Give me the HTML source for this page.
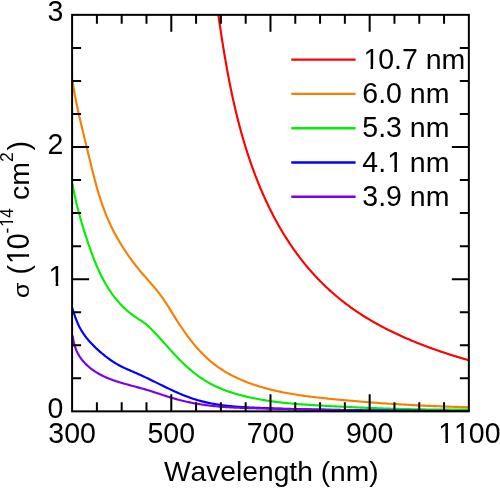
<!DOCTYPE html>
<html><head><meta charset="utf-8"><style>html,body{margin:0;padding:0;background:#fff;overflow:hidden}svg{display:block}</style></head>
<body><svg width="500" height="488" viewBox="0 0 500 488"><rect width="500" height="488" fill="#fff"/><defs><clipPath id="c"><rect x="72.1" y="14.85" width="396.75" height="396.5"/></clipPath></defs><g clip-path="url(#c)" fill="none" stroke-width="2.15" stroke-linejoin="round" stroke-linecap="round"><polyline stroke="#ff0000" points="217.67,10.02 217.84,11.18 218.00,12.34 218.17,13.49 218.33,14.65 218.50,15.81 218.67,16.97 218.83,18.13 219.00,19.29 219.17,20.44 219.34,21.60 219.51,22.76 219.68,23.92 219.85,25.08 220.02,26.23 220.19,27.39 220.37,28.55 220.54,29.71 220.71,30.86 220.89,32.02 221.06,33.18 221.24,34.34 221.42,35.49 221.60,36.65 221.78,37.81 221.96,38.96 222.14,40.12 222.32,41.28 222.50,42.43 222.68,43.59 222.87,44.74 223.05,45.90 223.24,47.06 223.43,48.21 223.62,49.37 223.81,50.52 224.00,51.68 224.19,52.83 224.38,53.98 224.57,55.14 224.77,56.29 224.97,57.45 225.16,58.60 225.36,59.75 225.56,60.91 225.76,62.06 225.96,63.21 226.17,64.36 226.37,65.51 226.58,66.67 226.78,67.82 226.99,68.97 227.20,70.12 227.41,71.27 227.63,72.42 227.84,73.57 228.06,74.72 228.27,75.87 228.49,77.02 228.71,78.16 228.93,79.31 229.16,80.46 229.38,81.61 229.61,82.75 229.83,83.90 230.06,85.05 230.29,86.19 230.53,87.34 230.76,88.48 231.00,89.63 231.23,90.77 231.47,91.92 231.71,93.06 231.96,94.20 232.20,95.35 232.45,96.49 232.69,97.63 232.94,98.77 233.20,99.91 233.45,101.05 233.70,102.19 233.96,103.33 234.22,104.47 234.48,105.61 234.74,106.75 235.01,107.88 235.28,109.02 235.54,110.16 235.81,111.29 236.09,112.43 236.36,113.56 236.64,114.70 236.92,115.83 237.20,116.96 237.48,118.10 237.77,119.23 238.05,120.36 238.34,121.49 238.64,122.62 238.93,123.75 239.23,124.88 239.53,126.01 239.83,127.14 240.13,128.27 240.43,129.39 240.74,130.52 241.05,131.65 241.36,132.77 241.68,133.90 242.00,135.02 242.32,136.14 242.64,137.27 242.96,138.39 243.29,139.51 243.62,140.63 243.95,141.75 244.29,142.87 244.62,143.99 244.96,145.11 245.30,146.22 245.65,147.34 246.00,148.46 246.35,149.57 246.70,150.69 247.05,151.80 247.41,152.91 247.77,154.02 248.14,155.14 248.50,156.25 248.87,157.36 249.24,158.47 249.62,159.57 249.99,160.68 250.37,161.79 250.76,162.89 251.14,164.00 251.53,165.10 251.92,166.21 252.32,167.31 252.71,168.41 253.12,169.51 253.52,170.62 253.92,171.71 254.33,172.81 254.75,173.91 255.16,175.01 255.58,176.10 256.00,177.20 256.43,178.29 256.85,179.38 257.28,180.47 257.72,181.56 258.15,182.65 258.59,183.74 259.04,184.83 259.48,185.91 259.93,186.99 260.39,188.08 260.84,189.16 261.30,190.24 261.76,191.32 262.23,192.39 262.70,193.47 263.17,194.54 263.65,195.61 264.12,196.68 264.61,197.75 265.09,198.82 265.58,199.89 266.07,200.95 266.57,202.01 267.07,203.07 267.57,204.13 268.07,205.19 268.58,206.25 269.10,207.30 269.61,208.35 270.13,209.40 270.65,210.45 271.18,211.50 271.71,212.54 272.24,213.59 272.78,214.63 273.32,215.66 273.86,216.70 274.41,217.74 274.96,218.77 275.52,219.80 276.08,220.83 276.64,221.85 277.20,222.88 277.77,223.90 278.35,224.92 278.92,225.93 279.50,226.95 280.09,227.96 280.68,228.97 281.27,229.98 281.86,230.98 282.46,231.98 283.06,232.98 283.67,233.98 284.28,234.98 284.90,235.97 285.51,236.96 286.14,237.95 286.76,238.93 287.39,239.91 288.03,240.89 288.66,241.87 289.30,242.84 289.95,243.82 290.60,244.78 291.25,245.75 291.91,246.71 292.57,247.67 293.24,248.63 293.91,249.58 294.58,250.54 295.26,251.48 295.94,252.43 296.63,253.37 297.32,254.31 298.01,255.25 298.71,256.18 299.41,257.11 300.12,258.04 300.83,258.96 301.54,259.88 302.26,260.80 302.98,261.71 303.71,262.62 304.44,263.53 305.18,264.43 305.92,265.33 306.66,266.23 307.41,267.12 308.16,268.01 308.92,268.90 309.68,269.78 310.45,270.66 311.22,271.54 311.99,272.41 312.77,273.28 313.55,274.14 314.34,275.01 315.13,275.86 315.93,276.72 316.73,277.57 317.53,278.41 318.34,279.26 319.16,280.10 319.97,280.93 320.79,281.76 321.62,282.59 322.45,283.41 323.28,284.23 324.12,285.05 324.96,285.86 325.80,286.67 326.65,287.47 327.50,288.27 328.36,289.06 329.22,289.85 330.09,290.64 330.95,291.42 331.83,292.20 332.70,292.98 333.58,293.75 334.47,294.51 335.35,295.27 336.24,296.03 337.14,296.78 338.04,297.53 338.94,298.27 339.84,299.01 340.75,299.75 341.66,300.48 342.58,301.20 343.50,301.92 344.42,302.64 345.35,303.35 346.28,304.06 347.21,304.76 348.15,305.45 349.09,306.15 350.03,306.84 350.98,307.52 351.93,308.20 352.88,308.87 353.84,309.54 354.80,310.20 355.76,310.86 356.73,311.52 357.70,312.17 358.67,312.82 359.64,313.46 360.62,314.10 361.60,314.73 362.59,315.36 363.57,315.98 364.56,316.60 365.55,317.22 366.55,317.83 367.55,318.44 368.55,319.04 369.55,319.64 370.55,320.23 371.56,320.82 372.57,321.41 373.58,321.99 374.60,322.57 375.62,323.15 376.64,323.72 377.66,324.28 378.68,324.84 379.71,325.40 380.74,325.96 381.77,326.51 382.80,327.06 383.84,327.60 384.88,328.14 385.92,328.67 386.96,329.21 388.00,329.74 389.05,330.26 390.09,330.78 391.14,331.30 392.19,331.81 393.24,332.32 394.30,332.83 395.35,333.33 396.41,333.83 397.47,334.33 398.53,334.82 399.59,335.31 400.66,335.80 401.72,336.28 402.79,336.76 403.86,337.24 404.93,337.71 406.00,338.18 407.08,338.65 408.15,339.11 409.23,339.57 410.30,340.03 411.38,340.48 412.46,340.93 413.54,341.38 414.63,341.82 415.71,342.26 416.80,342.70 417.88,343.14 418.97,343.57 420.06,344.00 421.15,344.42 422.24,344.85 423.33,345.27 424.43,345.69 425.52,346.10 426.62,346.51 427.71,346.92 428.81,347.32 429.91,347.73 431.01,348.13 432.11,348.53 433.21,348.92 434.31,349.31 435.42,349.70 436.52,350.09 437.63,350.47 438.73,350.85 439.84,351.23 440.94,351.61 442.05,351.98 443.16,352.35 444.27,352.72 445.38,353.09 446.49,353.45 447.60,353.81 448.71,354.17 449.82,354.52 450.93,354.88 452.05,355.23 453.16,355.58 454.27,355.92 455.39,356.27 456.50,356.61 457.62,356.95 458.73,357.29 459.85,357.62 460.96,357.95 462.08,358.28 463.20,358.61 464.31,358.94 465.43,359.26 466.55,359.59 467.66,359.91 468.78,360.22 469.90,360.54"/><polyline stroke="#f88000" points="72.40,80.36 72.62,81.82 72.85,83.29 73.08,84.74 73.32,86.20 73.56,87.66 73.81,89.11 74.07,90.56 74.33,92.01 74.59,93.46 74.86,94.91 75.13,96.36 75.41,97.80 75.69,99.24 75.98,100.68 76.27,102.12 76.56,103.56 76.86,105.00 77.16,106.44 77.47,107.87 77.78,109.31 78.09,110.74 78.40,112.18 78.72,113.61 79.04,115.04 79.37,116.47 79.69,117.90 80.02,119.33 80.35,120.76 80.68,122.19 81.02,123.62 81.36,125.04 81.69,126.47 82.03,127.90 82.37,129.33 82.72,130.75 83.06,132.18 83.41,133.61 83.75,135.03 84.10,136.46 84.45,137.89 84.79,139.32 85.14,140.75 85.49,142.17 85.84,143.60 86.19,145.03 86.53,146.46 86.88,147.89 87.23,149.32 87.58,150.76 87.92,152.19 88.27,153.62 88.61,155.05 88.96,156.49 89.30,157.92 89.65,159.36 89.99,160.79 90.34,162.23 90.69,163.66 91.04,165.10 91.39,166.53 91.74,167.97 92.10,169.40 92.45,170.83 92.81,172.27 93.18,173.70 93.54,175.13 93.91,176.56 94.28,177.99 94.66,179.41 95.04,180.84 95.42,182.26 95.81,183.69 96.20,185.11 96.60,186.53 97.00,187.94 97.41,189.36 97.82,190.77 98.24,192.18 98.67,193.59 99.10,195.00 99.54,196.40 99.98,197.81 100.43,199.21 100.89,200.60 101.35,202.00 101.83,203.39 102.31,204.77 102.80,206.16 103.29,207.54 103.80,208.91 104.31,210.29 104.84,211.66 105.37,213.02 105.91,214.39 106.46,215.75 107.02,217.10 107.59,218.45 108.17,219.80 108.77,221.14 109.37,222.48 109.98,223.81 110.60,225.14 111.24,226.46 111.88,227.78 112.53,229.10 113.20,230.41 113.87,231.71 114.55,233.01 115.24,234.31 115.94,235.60 116.65,236.89 117.37,238.17 118.10,239.45 118.84,240.72 119.59,241.99 120.34,243.25 121.11,244.50 121.88,245.76 122.67,247.00 123.46,248.25 124.26,249.48 125.07,250.71 125.88,251.94 126.71,253.16 127.54,254.38 128.38,255.59 129.23,256.79 130.09,257.99 130.95,259.18 131.83,260.37 132.71,261.55 133.60,262.73 134.49,263.90 135.39,265.07 136.30,266.23 137.22,267.38 138.15,268.53 139.08,269.67 140.02,270.81 140.96,271.94 141.92,273.07 142.87,274.19 143.83,275.30 144.80,276.42 145.77,277.53 146.73,278.64 147.70,279.74 148.67,280.85 149.64,281.96 150.60,283.07 151.56,284.18 152.52,285.29 153.47,286.41 154.42,287.53 155.36,288.65 156.29,289.78 157.21,290.91 158.12,292.05 159.02,293.20 159.91,294.36 160.78,295.52 161.64,296.70 162.49,297.88 163.33,299.07 164.16,300.27 164.97,301.48 165.78,302.69 166.58,303.91 167.37,305.13 168.16,306.36 168.94,307.60 169.72,308.84 170.49,310.08 171.26,311.32 172.03,312.57 172.80,313.82 173.58,315.07 174.35,316.32 175.13,317.57 175.91,318.82 176.70,320.07 177.49,321.31 178.29,322.56 179.10,323.80 179.91,325.04 180.73,326.28 181.55,327.51 182.38,328.74 183.22,329.97 184.07,331.19 184.92,332.40 185.79,333.61 186.65,334.82 187.53,336.02 188.42,337.21 189.31,338.40 190.21,339.57 191.13,340.75 192.05,341.91 192.97,343.06 193.91,344.21 194.86,345.35 195.82,346.47 196.78,347.59 197.76,348.70 198.75,349.80 199.74,350.88 200.75,351.96 201.77,353.02 202.79,354.07 203.83,355.11 204.88,356.14 205.94,357.15 207.01,358.15 208.10,359.14 209.19,360.11 210.30,361.07 211.42,362.01 212.55,362.94 213.69,363.85 214.85,364.74 216.02,365.62 217.20,366.48 218.39,367.33 219.59,368.16 220.81,368.97 222.04,369.77 223.28,370.55 224.52,371.32 225.78,372.07 227.05,372.81 228.33,373.53 229.62,374.24 230.91,374.93 232.22,375.61 233.53,376.27 234.85,376.92 236.18,377.56 237.51,378.18 238.85,378.79 240.20,379.39 241.56,379.98 242.91,380.55 244.28,381.11 245.65,381.65 247.02,382.19 248.40,382.71 249.78,383.22 251.17,383.72 252.56,384.21 253.95,384.69 255.35,385.16 256.75,385.61 258.15,386.06 259.55,386.49 260.96,386.92 262.37,387.33 263.78,387.74 265.19,388.13 266.61,388.52 268.03,388.90 269.45,389.26 270.88,389.62 272.30,389.97 273.73,390.31 275.16,390.65 276.59,390.97 278.03,391.29 279.46,391.60 280.90,391.90 282.34,392.19 283.79,392.48 285.23,392.76 286.67,393.03 288.12,393.30 289.57,393.55 291.02,393.81 292.47,394.05 293.93,394.29 295.38,394.53 296.83,394.76 298.29,394.98 299.75,395.20 301.21,395.41 302.67,395.62 304.13,395.82 305.59,396.02 307.05,396.21 308.52,396.40 309.98,396.59 311.44,396.77 312.91,396.95 314.37,397.12 315.84,397.30 317.31,397.46 318.77,397.63 320.24,397.79 321.71,397.95 323.18,398.11 324.64,398.27 326.11,398.42 327.58,398.57 329.05,398.72 330.52,398.87 331.98,399.01 333.45,399.16 334.92,399.30 336.38,399.45 337.85,399.59 339.32,399.73 340.78,399.87 342.25,400.00 343.72,400.14 345.18,400.27 346.65,400.41 348.12,400.54 349.58,400.67 351.05,400.80 352.51,400.93 353.98,401.05 355.44,401.18 356.91,401.30 358.38,401.42 359.84,401.55 361.31,401.67 362.77,401.78 364.24,401.90 365.70,402.02 367.17,402.13 368.63,402.25 370.10,402.36 371.56,402.47 373.03,402.58 374.49,402.69 375.96,402.80 377.43,402.90 378.89,403.01 380.36,403.11 381.82,403.21 383.29,403.31 384.75,403.41 386.22,403.51 387.68,403.61 389.15,403.71 390.62,403.80 392.08,403.90 393.55,403.99 395.01,404.08 396.48,404.17 397.95,404.26 399.41,404.35 400.88,404.43 402.34,404.52 403.81,404.61 405.28,404.69 406.75,404.77 408.21,404.85 409.68,404.93 411.15,405.01 412.61,405.09 414.08,405.17 415.55,405.24 417.02,405.32 418.49,405.39 419.95,405.46 421.42,405.53 422.89,405.60 424.36,405.67 425.83,405.74 427.30,405.81 428.77,405.87 430.24,405.94 431.71,406.00 433.18,406.06 434.65,406.12 436.12,406.18 437.59,406.24 439.06,406.30 440.54,406.36 442.01,406.42 443.48,406.47 444.95,406.53 446.42,406.58 447.90,406.63 449.37,406.68 450.84,406.73 452.32,406.78 453.79,406.83 455.27,406.88 456.74,406.92 458.22,406.97 459.69,407.01 461.17,407.06 462.65,407.10 464.12,407.14 465.60,407.18 467.08,407.22 468.56,407.26 470.03,407.30"/><polyline stroke="#00f000" points="72.49,184.23 72.72,185.50 72.95,186.78 73.19,188.05 73.43,189.32 73.68,190.58 73.93,191.85 74.19,193.11 74.45,194.37 74.72,195.63 74.99,196.89 75.27,198.14 75.55,199.40 75.84,200.65 76.13,201.90 76.42,203.14 76.72,204.39 77.03,205.64 77.33,206.88 77.65,208.12 77.96,209.36 78.28,210.60 78.61,211.84 78.94,213.08 79.27,214.31 79.61,215.55 79.95,216.78 80.29,218.01 80.64,219.24 80.99,220.48 81.35,221.71 81.71,222.93 82.08,224.16 82.44,225.39 82.81,226.62 83.19,227.84 83.57,229.07 83.95,230.29 84.33,231.52 84.72,232.74 85.11,233.97 85.51,235.19 85.91,236.41 86.31,237.64 86.72,238.86 87.12,240.08 87.54,241.31 87.95,242.53 88.37,243.75 88.79,244.97 89.21,246.20 89.64,247.42 90.07,248.64 90.50,249.86 90.94,251.09 91.38,252.31 91.83,253.53 92.28,254.74 92.74,255.96 93.20,257.17 93.66,258.38 94.14,259.59 94.61,260.80 95.10,262.01 95.59,263.21 96.08,264.41 96.59,265.60 97.10,266.79 97.61,267.98 98.14,269.16 98.67,270.34 99.21,271.52 99.76,272.69 100.31,273.86 100.88,275.02 101.45,276.17 102.03,277.33 102.62,278.47 103.22,279.61 103.83,280.74 104.45,281.87 105.08,282.99 105.72,284.10 106.37,285.21 107.03,286.31 107.70,287.40 108.38,288.49 109.07,289.56 109.78,290.63 110.49,291.69 111.22,292.75 111.96,293.79 112.72,294.83 113.48,295.85 114.26,296.87 115.05,297.88 115.86,298.88 116.67,299.86 117.50,300.84 118.35,301.81 119.20,302.77 120.07,303.71 120.95,304.65 121.84,305.57 122.75,306.48 123.67,307.38 124.59,308.27 125.54,309.15 126.49,310.01 127.46,310.86 128.43,311.70 129.42,312.52 130.42,313.33 131.44,314.13 132.46,314.91 133.50,315.68 134.55,316.43 135.61,317.17 136.68,317.89 137.76,318.60 138.86,319.29 139.95,319.98 141.05,320.67 142.13,321.37 143.20,322.09 144.25,322.84 145.27,323.62 146.26,324.43 147.23,325.27 148.18,326.13 149.11,327.01 150.04,327.91 150.95,328.81 151.86,329.73 152.76,330.64 153.65,331.57 154.54,332.49 155.43,333.43 156.31,334.36 157.19,335.30 158.06,336.25 158.94,337.20 159.80,338.15 160.67,339.10 161.53,340.06 162.40,341.01 163.26,341.97 164.12,342.93 164.98,343.89 165.84,344.85 166.70,345.81 167.56,346.77 168.42,347.73 169.28,348.69 170.15,349.65 171.01,350.61 171.88,351.56 172.75,352.51 173.63,353.46 174.50,354.41 175.38,355.35 176.27,356.29 177.16,357.22 178.06,358.15 178.96,359.07 179.86,359.99 180.77,360.91 181.69,361.81 182.62,362.71 183.55,363.61 184.49,364.50 185.43,365.38 186.38,366.25 187.34,367.12 188.30,367.98 189.27,368.83 190.25,369.67 191.23,370.50 192.22,371.32 193.22,372.13 194.23,372.94 195.24,373.73 196.26,374.51 197.29,375.28 198.33,376.05 199.37,376.80 200.42,377.53 201.48,378.26 202.54,378.97 203.62,379.68 204.70,380.36 205.79,381.04 206.88,381.70 207.99,382.35 209.10,382.99 210.22,383.61 211.35,384.21 212.49,384.80 213.64,385.38 214.79,385.94 215.95,386.49 217.12,387.03 218.30,387.56 219.48,388.07 220.66,388.57 221.86,389.05 223.05,389.53 224.26,389.99 225.47,390.44 226.68,390.88 227.90,391.31 229.12,391.73 230.35,392.14 231.57,392.54 232.81,392.93 234.04,393.31 235.28,393.68 236.52,394.05 237.76,394.40 239.01,394.75 240.26,395.08 241.50,395.41 242.75,395.74 244.00,396.05 245.25,396.36 246.51,396.66 247.76,396.95 249.02,397.24 250.27,397.52 251.53,397.79 252.79,398.05 254.05,398.31 255.31,398.57 256.57,398.81 257.84,399.05 259.10,399.29 260.37,399.51 261.63,399.74 262.90,399.95 264.17,400.16 265.44,400.37 266.71,400.57 267.98,400.76 269.25,400.95 270.52,401.14 271.80,401.32 273.07,401.49 274.34,401.66 275.62,401.82 276.90,401.98 278.17,402.14 279.45,402.29 280.73,402.44 282.01,402.58 283.29,402.72 284.57,402.86 285.85,402.99 287.13,403.12 288.41,403.24 289.70,403.36 290.98,403.48 292.26,403.60 293.55,403.71 294.83,403.82 296.12,403.92 297.40,404.03 298.69,404.13 299.97,404.23 301.26,404.32 302.54,404.42 303.83,404.51 305.12,404.60 306.40,404.69 307.69,404.77 308.98,404.86 310.27,404.94 311.55,405.02 312.84,405.10 314.13,405.18 315.42,405.26 316.71,405.33 317.99,405.41 319.28,405.49 320.57,405.56 321.86,405.63 323.15,405.71 324.43,405.78 325.72,405.85 327.01,405.93 328.30,406.00 329.59,406.07 330.87,406.14 332.16,406.21 333.45,406.28 334.74,406.34 336.02,406.41 337.31,406.48 338.60,406.54 339.89,406.61 341.18,406.68 342.46,406.74 343.75,406.80 345.04,406.87 346.33,406.93 347.61,406.99 348.90,407.05 350.19,407.11 351.48,407.17 352.76,407.23 354.05,407.29 355.34,407.35 356.63,407.41 357.91,407.46 359.20,407.52 360.49,407.58 361.78,407.63 363.06,407.69 364.35,407.74 365.64,407.79 366.93,407.84 368.21,407.90 369.50,407.95 370.79,408.00 372.08,408.05 373.36,408.09 374.65,408.14 375.94,408.19 377.23,408.24 378.51,408.28 379.80,408.33 381.09,408.37 382.38,408.41 383.66,408.46 384.95,408.50 386.24,408.54 387.53,408.58 388.81,408.62 390.10,408.66 391.39,408.70 392.68,408.74 393.96,408.78 395.25,408.81 396.54,408.85 397.83,408.88 399.12,408.92 400.40,408.95 401.69,408.98 402.98,409.01 404.27,409.04 405.56,409.08 406.84,409.10 408.13,409.13 409.42,409.16 410.71,409.19 412.00,409.21 413.28,409.24 414.57,409.26 415.86,409.29 417.15,409.31 418.44,409.33 419.72,409.36 421.01,409.38 422.30,409.40 423.59,409.41 424.88,409.43 426.17,409.45 427.45,409.47 428.74,409.48 430.03,409.50 431.32,409.51 432.61,409.52 433.90,409.54 435.19,409.55 436.48,409.56 437.76,409.57 439.05,409.58 440.34,409.59 441.63,409.59 442.92,409.60 444.21,409.60 445.50,409.61 446.79,409.61 448.08,409.62 449.37,409.62 450.66,409.62 451.95,409.62 453.24,409.62 454.52,409.62 455.81,409.61 457.10,409.61 458.39,409.61 459.68,409.60 460.97,409.59 462.26,409.59 463.55,409.58 464.84,409.57 466.13,409.56 467.42,409.55 468.71,409.54 470.01,409.53"/><polyline stroke="#0000ff" points="72.35,308.28 72.68,309.31 73.01,310.35 73.34,311.38 73.68,312.42 74.03,313.46 74.38,314.49 74.73,315.53 75.10,316.57 75.47,317.60 75.85,318.63 76.24,319.66 76.64,320.68 77.05,321.69 77.47,322.70 77.91,323.70 78.36,324.70 78.82,325.68 79.30,326.66 79.79,327.62 80.30,328.58 80.83,329.52 81.38,330.45 81.94,331.37 82.51,332.28 83.10,333.18 83.71,334.07 84.33,334.95 84.96,335.82 85.61,336.68 86.26,337.53 86.94,338.38 87.62,339.21 88.32,340.04 89.02,340.85 89.74,341.67 90.47,342.47 91.21,343.26 91.95,344.05 92.71,344.83 93.47,345.61 94.25,346.38 95.03,347.14 95.82,347.90 96.61,348.65 97.42,349.39 98.22,350.13 99.04,350.87 99.86,351.60 100.69,352.32 101.52,353.03 102.36,353.74 103.21,354.44 104.06,355.14 104.92,355.82 105.79,356.50 106.66,357.17 107.53,357.83 108.42,358.48 109.31,359.12 110.20,359.75 111.10,360.38 112.01,360.99 112.92,361.59 113.84,362.18 114.76,362.76 115.69,363.33 116.62,363.88 117.56,364.43 118.51,364.96 119.46,365.48 120.41,365.99 121.37,366.48 122.34,366.97 123.31,367.44 124.28,367.90 125.26,368.36 126.24,368.80 127.23,369.24 128.21,369.68 129.20,370.11 130.19,370.54 131.18,370.96 132.18,371.38 133.17,371.81 134.17,372.23 135.16,372.66 136.15,373.09 137.15,373.52 138.14,373.96 139.13,374.40 140.12,374.84 141.11,375.30 142.10,375.75 143.09,376.21 144.07,376.67 145.06,377.13 146.05,377.60 147.03,378.07 148.02,378.55 149.00,379.02 149.98,379.50 150.97,379.98 151.95,380.46 152.93,380.94 153.92,381.42 154.90,381.91 155.88,382.39 156.86,382.88 157.85,383.37 158.83,383.85 159.81,384.34 160.80,384.82 161.78,385.31 162.77,385.79 163.75,386.27 164.74,386.75 165.72,387.23 166.71,387.71 167.70,388.18 168.69,388.65 169.68,389.12 170.67,389.59 171.66,390.06 172.65,390.52 173.64,390.97 174.64,391.43 175.63,391.88 176.63,392.32 177.63,392.76 178.63,393.20 179.63,393.63 180.63,394.05 181.64,394.47 182.64,394.89 183.65,395.30 184.66,395.70 185.67,396.09 186.68,396.48 187.70,396.87 188.71,397.24 189.73,397.61 190.75,397.97 191.78,398.32 192.80,398.67 193.83,399.01 194.86,399.34 195.89,399.65 196.93,399.97 197.97,400.27 199.00,400.56 200.05,400.85 201.09,401.13 202.14,401.40 203.19,401.66 204.24,401.91 205.29,402.16 206.34,402.40 207.40,402.63 208.46,402.86 209.52,403.07 210.58,403.29 211.65,403.49 212.71,403.69 213.78,403.88 214.85,404.06 215.92,404.24 216.99,404.42 218.06,404.58 219.14,404.74 220.22,404.90 221.29,405.05 222.37,405.20 223.45,405.33 224.54,405.47 225.62,405.60 226.70,405.72 227.79,405.84 228.87,405.96 229.96,406.07 231.05,406.18 232.14,406.28 233.23,406.38 234.32,406.47 235.41,406.56 236.50,406.65 237.60,406.73 238.69,406.82 239.79,406.89 240.88,406.97 241.98,407.04 243.07,407.11 244.17,407.17 245.27,407.24 246.36,407.30 247.46,407.36 248.56,407.41 249.66,407.47 250.76,407.52 251.85,407.57 252.95,407.62 254.05,407.67 255.15,407.72 256.25,407.77 257.35,407.81 258.44,407.86 259.54,407.90 260.64,407.94 261.74,407.99 262.83,408.03 263.93,408.07 265.03,408.11 266.12,408.15 267.22,408.19 268.32,408.23 269.41,408.27 270.51,408.31 271.60,408.35 272.70,408.38 273.79,408.42 274.89,408.46 275.98,408.49 277.08,408.53 278.17,408.56 279.26,408.60 280.36,408.63 281.45,408.67 282.55,408.70 283.64,408.73 284.73,408.77 285.82,408.80 286.92,408.83 288.01,408.86 289.10,408.89 290.19,408.92 291.28,408.95 292.38,408.98 293.47,409.01 294.56,409.04 295.65,409.07 296.74,409.09 297.83,409.12 298.92,409.15 300.01,409.18 301.10,409.20 302.19,409.23 303.28,409.25 304.37,409.28 305.46,409.30 306.55,409.33 307.64,409.35 308.73,409.38 309.82,409.40 310.91,409.42 312.00,409.45 313.09,409.47 314.18,409.49 315.26,409.51 316.35,409.53 317.44,409.55 318.53,409.58 319.62,409.60 320.71,409.62 321.79,409.64 322.88,409.66 323.97,409.68 325.06,409.69 326.14,409.71 327.23,409.73 328.32,409.75 329.41,409.77 330.49,409.78 331.58,409.80 332.67,409.82 333.75,409.84 334.84,409.85 335.93,409.87 337.02,409.89 338.10,409.90 339.19,409.92 340.28,409.93 341.36,409.95 342.45,409.96 343.54,409.98 344.62,409.99 345.71,410.01 346.79,410.02 347.88,410.03 348.97,410.05 350.05,410.06 351.14,410.07 352.23,410.09 353.31,410.10 354.40,410.11 355.49,410.12 356.57,410.14 357.66,410.15 358.74,410.16 359.83,410.17 360.92,410.18 362.00,410.19 363.09,410.21 364.17,410.22 365.26,410.23 366.35,410.24 367.43,410.25 368.52,410.26 369.61,410.27 370.69,410.28 371.78,410.29 372.87,410.30 373.95,410.31 375.04,410.32 376.12,410.33 377.21,410.34 378.30,410.35 379.38,410.36 380.47,410.37 381.56,410.38 382.64,410.39 383.73,410.40 384.82,410.41 385.91,410.41 386.99,410.42 388.08,410.43 389.17,410.44 390.25,410.45 391.34,410.46 392.43,410.47 393.52,410.48 394.60,410.48 395.69,410.49 396.78,410.50 397.87,410.51 398.96,410.52 400.04,410.53 401.13,410.53 402.22,410.54 403.31,410.55 404.40,410.56 405.49,410.57 406.57,410.58 407.66,410.58 408.75,410.59 409.84,410.60 410.93,410.61 412.02,410.62 413.11,410.63 414.20,410.64 415.29,410.64 416.38,410.65 417.47,410.66 418.56,410.67 419.65,410.68 420.74,410.69 421.83,410.70 422.92,410.70 424.01,410.71 425.10,410.72 426.19,410.73 427.29,410.74 428.38,410.75 429.47,410.76 430.56,410.77 431.65,410.78 432.75,410.79 433.84,410.80 434.93,410.81 436.02,410.82 437.12,410.83 438.21,410.84 439.30,410.85 440.40,410.86 441.49,410.87 442.59,410.88 443.68,410.89 444.77,410.90 445.87,410.91 446.96,410.92 448.06,410.94 449.16,410.95 450.25,410.96 451.35,410.97 452.44,410.98 453.54,411.00 454.64,411.01 455.73,411.02 456.83,411.03 457.93,411.05 459.02,411.06 460.12,411.07 461.22,411.09 462.32,411.10 463.42,411.12 464.52,411.13 465.62,411.14 466.71,411.16 467.81,411.17 468.91,411.19 470.01,411.20"/><polyline stroke="#7a00f0" points="72.62,336.20 72.81,337.25 73.00,338.30 73.21,339.35 73.43,340.40 73.65,341.45 73.90,342.49 74.15,343.54 74.43,344.57 74.72,345.60 75.03,346.63 75.36,347.64 75.71,348.65 76.09,349.64 76.49,350.62 76.92,351.59 77.38,352.54 77.86,353.48 78.37,354.41 78.90,355.32 79.45,356.22 80.03,357.10 80.63,357.97 81.25,358.82 81.89,359.66 82.55,360.48 83.23,361.29 83.93,362.09 84.65,362.86 85.38,363.63 86.13,364.38 86.89,365.11 87.67,365.83 88.46,366.53 89.27,367.22 90.09,367.89 90.91,368.55 91.75,369.18 92.60,369.81 93.46,370.42 94.33,371.01 95.20,371.59 96.09,372.15 96.98,372.70 97.88,373.23 98.79,373.75 99.70,374.26 100.63,374.75 101.56,375.24 102.49,375.71 103.44,376.16 104.39,376.61 105.35,377.05 106.31,377.47 107.28,377.89 108.25,378.29 109.23,378.68 110.22,379.07 111.21,379.45 112.20,379.82 113.20,380.18 114.20,380.53 115.21,380.88 116.22,381.21 117.23,381.55 118.25,381.87 119.27,382.19 120.30,382.51 121.32,382.82 122.35,383.12 123.38,383.42 124.42,383.72 125.45,384.01 126.49,384.30 127.52,384.59 128.56,384.87 129.60,385.15 130.64,385.43 131.68,385.71 132.72,385.99 133.77,386.26 134.81,386.54 135.85,386.82 136.88,387.10 137.92,387.37 138.96,387.65 140.00,387.93 141.03,388.22 142.06,388.50 143.09,388.79 144.12,389.08 145.15,389.38 146.17,389.68 147.19,389.98 148.20,390.28 149.22,390.59 150.23,390.91 151.24,391.23 152.25,391.55 153.25,391.87 154.25,392.19 155.26,392.52 156.26,392.85 157.26,393.17 158.26,393.50 159.25,393.83 160.25,394.16 161.25,394.49 162.25,394.82 163.25,395.15 164.24,395.47 165.24,395.79 166.24,396.12 167.25,396.44 168.25,396.75 169.25,397.07 170.26,397.38 171.27,397.68 172.28,397.98 173.29,398.28 174.31,398.57 175.32,398.86 176.34,399.15 177.37,399.42 178.39,399.70 179.42,399.96 180.45,400.23 181.48,400.49 182.51,400.74 183.55,400.99 184.59,401.23 185.63,401.47 186.67,401.70 187.71,401.93 188.75,402.16 189.80,402.37 190.84,402.59 191.89,402.80 192.94,403.00 193.98,403.20 195.03,403.39 196.09,403.58 197.14,403.77 198.19,403.95 199.24,404.12 200.29,404.29 201.35,404.45 202.40,404.61 203.45,404.77 204.51,404.92 205.56,405.06 206.62,405.20 207.67,405.34 208.73,405.47 209.78,405.60 210.84,405.72 211.89,405.84 212.95,405.96 214.01,406.07 215.06,406.17 216.12,406.28 217.18,406.38 218.24,406.48 219.29,406.57 220.35,406.66 221.41,406.74 222.47,406.83 223.53,406.91 224.59,406.98 225.65,407.06 226.70,407.13 227.76,407.20 228.82,407.26 229.88,407.33 230.94,407.39 232.00,407.45 233.06,407.50 234.12,407.56 235.19,407.61 236.25,407.66 237.31,407.70 238.37,407.75 239.43,407.79 240.49,407.83 241.55,407.87 242.61,407.91 243.68,407.95 244.74,407.99 245.80,408.02 246.86,408.05 247.92,408.09 248.98,408.12 250.05,408.15 251.11,408.18 252.17,408.20 253.23,408.23 254.30,408.26 255.36,408.29 256.42,408.31 257.48,408.34 258.55,408.36 259.61,408.39 260.67,408.41 261.73,408.44 262.80,408.46 263.86,408.49 264.92,408.52 265.98,408.54 267.04,408.57 268.11,408.59 269.17,408.62 270.23,408.64 271.29,408.67 272.36,408.69 273.42,408.72 274.48,408.74 275.54,408.76 276.61,408.79 277.67,408.81 278.73,408.84 279.79,408.86 280.86,408.89 281.92,408.91 282.98,408.94 284.04,408.96 285.11,408.98 286.17,409.01 287.23,409.03 288.29,409.06 289.36,409.08 290.42,409.10 291.48,409.13 292.54,409.15 293.61,409.17 294.67,409.20 295.73,409.22 296.79,409.24 297.86,409.27 298.92,409.29 299.98,409.31 301.04,409.34 302.11,409.36 303.17,409.38 304.23,409.40 305.29,409.43 306.36,409.45 307.42,409.47 308.48,409.49 309.54,409.52 310.61,409.54 311.67,409.56 312.73,409.58 313.79,409.61 314.86,409.63 315.92,409.65 316.98,409.67 318.04,409.69 319.11,409.71 320.17,409.74 321.23,409.76 322.29,409.78 323.36,409.80 324.42,409.82 325.48,409.84 326.54,409.86 327.61,409.88 328.67,409.90 329.73,409.92 330.79,409.94 331.86,409.96 332.92,409.98 333.98,410.00 335.04,410.02 336.11,410.04 337.17,410.06 338.23,410.08 339.29,410.10 340.36,410.12 341.42,410.14 342.48,410.16 343.55,410.18 344.61,410.20 345.67,410.22 346.73,410.24 347.80,410.26 348.86,410.27 349.92,410.29 350.98,410.31 352.05,410.33 353.11,410.35 354.17,410.37 355.23,410.38 356.30,410.40 357.36,410.42 358.42,410.44 359.48,410.45 360.55,410.47 361.61,410.49 362.67,410.50 363.73,410.52 364.80,410.54 365.86,410.55 366.92,410.57 367.98,410.59 369.05,410.60 370.11,410.62 371.17,410.63 372.23,410.65 373.30,410.67 374.36,410.68 375.42,410.70 376.49,410.71 377.55,410.73 378.61,410.74 379.67,410.76 380.74,410.77 381.80,410.79 382.86,410.80 383.92,410.81 384.99,410.83 386.05,410.84 387.11,410.86 388.17,410.87 389.24,410.88 390.30,410.90 391.36,410.91 392.42,410.92 393.49,410.93 394.55,410.95 395.61,410.96 396.68,410.97 397.74,410.98 398.80,411.00 399.86,411.01 400.93,411.02 401.99,411.03 403.05,411.04 404.11,411.05 405.18,411.06 406.24,411.07 407.30,411.09 408.36,411.10 409.43,411.11 410.49,411.12 411.55,411.13 412.62,411.14 413.68,411.15 414.74,411.16 415.80,411.16 416.87,411.17 417.93,411.18 418.99,411.19 420.05,411.20 421.12,411.21 422.18,411.22 423.24,411.23 424.30,411.23 425.37,411.24 426.43,411.25 427.49,411.26 428.56,411.26 429.62,411.27 430.68,411.28 431.74,411.28 432.81,411.29 433.87,411.30 434.93,411.30 435.99,411.31 437.06,411.31 438.12,411.32 439.18,411.32 440.24,411.33 441.31,411.33 442.37,411.34 443.43,411.34 444.50,411.35 445.56,411.35 446.62,411.36 447.68,411.36 448.75,411.36 449.81,411.37 450.87,411.37 451.93,411.37 453.00,411.38 454.06,411.38 455.12,411.38 456.18,411.38 457.25,411.38 458.31,411.39 459.37,411.39 460.44,411.39 461.50,411.39 462.56,411.39 463.62,411.39 464.69,411.39 465.75,411.39 466.81,411.39 467.87,411.39 468.94,411.39 470.00,411.39"/></g><path d="M96.90 411.35V402.35M96.90 14.85V23.85M121.69 411.35V402.35M121.69 14.85V23.85M146.49 411.35V402.35M146.49 14.85V23.85M171.29 411.35V394.35M171.29 14.85V31.85M196.08 411.35V402.35M196.08 14.85V23.85M220.88 411.35V402.35M220.88 14.85V23.85M245.68 411.35V402.35M245.68 14.85V23.85M270.48 411.35V394.35M270.48 14.85V31.85M295.27 411.35V402.35M295.27 14.85V23.85M320.07 411.35V402.35M320.07 14.85V23.85M344.87 411.35V402.35M344.87 14.85V23.85M369.66 411.35V394.35M369.66 14.85V31.85M394.46 411.35V402.35M394.46 14.85V23.85M419.26 411.35V402.35M419.26 14.85V23.85M444.05 411.35V402.35M444.05 14.85V23.85M72.1 378.31H81.1M468.85 378.31H459.85M72.1 345.27H81.1M468.85 345.27H459.85M72.1 312.23H81.1M468.85 312.23H459.85M72.1 279.18H89.1M468.85 279.18H451.85M72.1 246.14H81.1M468.85 246.14H459.85M72.1 213.10H81.1M468.85 213.10H459.85M72.1 180.06H81.1M468.85 180.06H459.85M72.1 147.02H89.1M468.85 147.02H451.85M72.1 113.98H81.1M468.85 113.98H459.85M72.1 80.93H81.1M468.85 80.93H459.85M72.1 47.89H81.1M468.85 47.89H459.85" stroke="#000" stroke-width="2" fill="none"/><rect x="72.1" y="14.85" width="396.75" height="396.5" fill="none" stroke="#000" stroke-width="2"/><line x1="291.3" x2="355.6" y1="59.60" y2="59.60" stroke="#ff0000" stroke-width="2.4"/><line x1="291.3" x2="355.6" y1="93.90" y2="93.90" stroke="#f88000" stroke-width="2.4"/><line x1="291.3" x2="355.6" y1="128.20" y2="128.20" stroke="#00f000" stroke-width="2.4"/><line x1="291.3" x2="355.6" y1="162.50" y2="162.50" stroke="#0000ff" stroke-width="2.4"/><line x1="291.3" x2="355.6" y1="196.80" y2="196.80" stroke="#7a00f0" stroke-width="2.4"/><g font-family="Liberation Sans, Arial, sans-serif" font-size="28.5" fill="#000" style="font-kerning:none"><g transform="translate(362.30 68.80) scale(1 1.065)"><text x="0.00" dx="1.1 -1.1 0 0" clip-path="url(#k0)">10.7</text></g><g transform="translate(425.68 68.80) scale(1 1.0)"><text x="0.00">nm</text></g><g transform="translate(362.30 103.10) scale(1 1.065)"><text x="0.00">6.0</text></g><g transform="translate(409.84 103.10) scale(1 1.0)"><text x="0.00">nm</text></g><g transform="translate(362.30 137.40) scale(1 1.065)"><text x="0.00">5.3</text></g><g transform="translate(409.84 137.40) scale(1 1.0)"><text x="0.00">nm</text></g><g transform="translate(362.30 171.70) scale(1 1.065)"><text x="0.00" dx="0 0 1.1" clip-path="url(#k1)">4.1</text></g><g transform="translate(409.84 171.70) scale(1 1.0)"><text x="0.00">nm</text></g><g transform="translate(362.30 206.00) scale(1 1.065)"><text x="0.00">3.9</text></g><g transform="translate(409.84 206.00) scale(1 1.0)"><text x="0.00">nm</text></g><g transform="translate(63.30 418.00) scale(1 1.02)"><text x="-15.85">0</text></g><g transform="translate(63.30 285.80) scale(1 1.02)"><text x="-15.85" dx="1.1" clip-path="url(#k2)">1</text></g><g transform="translate(63.30 153.55) scale(1 1.02)"><text x="-15.85">2</text></g><g transform="translate(63.30 21.30) scale(1 1.02)"><text x="-15.85">3</text></g><g transform="translate(72.10 442.95) scale(1 1.02)"><text x="-23.78">300</text></g><g transform="translate(171.29 442.95) scale(1 1.02)"><text x="-23.78">500</text></g><g transform="translate(270.48 442.95) scale(1 1.02)"><text x="-23.78">700</text></g><g transform="translate(369.66 442.95) scale(1 1.02)"><text x="-23.78">900</text></g><g transform="translate(468.85 442.95) scale(1 1.02)"><text x="-31.70" dx="1.1 0 -1.1 0" clip-path="url(#k3)">1100</text></g><text transform="translate(271.3 480.6) scale(0.99 1)" text-anchor="middle">Wavelength (nm)</text><g transform="translate(29.10 298.00) rotate(-90) scale(1 0.85)"><text font-size="25">σ</text></g><g transform="translate(28.60 274.50) rotate(-90) scale(1 1.05)"><text x="0.00">(</text></g><g transform="translate(28.60 265.00) rotate(-90) scale(1 1.08)"><text x="0.00" dx="1.1 -1.1" clip-path="url(#k4)">10</text></g><g transform="translate(13.40 233.60) rotate(-90) scale(1 1.0)"><text x="0.00" dx="0 0.675439 -0.675439" font-size="17.5" clip-path="url(#k5)">-14</text></g><g transform="translate(28.60 200.10) rotate(-90) scale(1 1.0)"><text> cm</text></g><g transform="translate(13.40 162.00) rotate(-90) scale(1 1.0)"><text x="0.00" font-size="17.5">2</text></g><g transform="translate(28.60 150.50) rotate(-90) scale(1 1.05)"><text x="0.00">)</text></g></g><defs><clipPath id="k0"><path clip-rule="evenodd" d="M-80 -80H120V40H-80ZM2.44 -3.66H8.21V2H2.44ZM10.84 -3.66H16.39V2H10.84Z"/></clipPath><clipPath id="k1"><path clip-rule="evenodd" d="M-80 -80H120V40H-80ZM26.20 -3.66H31.98V2H26.20ZM34.61 -3.66H40.16V2H34.61Z"/></clipPath><clipPath id="k2"><path clip-rule="evenodd" d="M-80 -80H120V40H-80ZM-13.41 -3.66H-7.64V2H-13.41ZM-5.01 -3.66H0.54V2H-5.01Z"/></clipPath><clipPath id="k3"><path clip-rule="evenodd" d="M-80 -80H120V40H-80ZM-29.26 -3.66H-23.49V2H-29.26ZM-20.86 -3.66H-15.31V2H-20.86ZM-13.41 -3.66H-7.64V2H-13.41ZM-5.01 -3.66H0.54V2H-5.01Z"/></clipPath><clipPath id="k4"><path clip-rule="evenodd" d="M-80 -80H120V40H-80ZM2.44 -3.66H8.21V2H2.44ZM10.84 -3.66H16.39V2H10.84Z"/></clipPath><clipPath id="k5"><path clip-rule="evenodd" d="M-80 -80H120V40H-80ZM7.32 -2.25H10.87V2H7.32ZM12.48 -2.25H15.89V2H12.48Z"/></clipPath></defs></svg></body></html>
